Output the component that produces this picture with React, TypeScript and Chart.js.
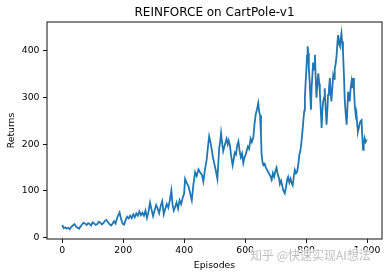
import React, { useEffect, useRef } from "react";
import { Chart, registerables } from "chart.js";

Chart.register(...registerables);

const titleText = "REINFORCE on CartPole-v1";
const xLabel = "Episodes";
const yLabel = "Returns";
const watermark = "知乎 @快速实现AI想法";

const xTicks = [0, 200, 400, 600, 800, 1000];
const yTicks = [0, 100, 200, 300, 400];

const episodes = [
  0, 5, 10, 15, 20, 25, 30, 35, 40, 45, 50, 55, 60, 65, 70, 75, 80, 85, 90, 95,
  100, 105, 110, 115, 120, 125, 130, 135, 140, 145, 150, 155, 160, 165, 170, 175, 180, 185, 188, 193,
  198, 203, 208, 213, 218, 223, 228, 233, 238, 243, 248, 253, 258, 263, 268, 273, 278, 283, 288, 293,
  298, 303, 308, 313, 318, 323, 328, 333, 338, 343, 348, 353, 358, 362, 366, 370, 375, 380, 385, 390,
  395, 400, 403, 408, 414, 418, 422, 425, 430, 436, 441, 447, 452, 458, 463, 468, 474, 478, 482, 486,
  490, 495, 501, 505, 509, 512, 515, 518, 521, 525, 528, 532, 536, 539, 543, 546, 550, 554, 559, 563,
  566, 570, 574, 578, 582, 586, 590, 594, 598, 602, 605, 609, 613, 618, 622, 627, 631, 635, 639, 643,
  646, 649, 652, 654, 657, 660, 664, 668, 672, 676, 680, 684, 687, 691, 695, 699, 703, 707, 711, 714,
  718, 722, 726, 730, 734, 738, 741, 745, 749, 752, 756, 760, 763, 767, 771, 775, 778, 781, 785, 789,
  792, 794, 796, 798, 801, 803, 805, 807, 809, 812, 814, 816, 818, 821, 823, 826, 829, 831, 834, 837,
  840, 843, 845, 848, 851, 853, 856, 859, 861, 864, 867, 870, 872, 875, 878, 880, 883, 886, 889, 892,
  894, 897, 900, 903, 905, 908, 911, 913, 916, 918, 921, 924, 927, 930, 933, 936, 938, 941, 943, 946,
  949, 951, 954, 957, 960, 963, 965, 968, 970, 973, 976, 979, 982, 984, 987, 989, 992, 995, 999,
];

const returns = [
  27, 20, 22, 19, 21, 18, 23, 26, 29, 24, 21, 19, 24, 28, 32, 30, 27, 31, 29, 26,
  33, 30, 27, 29, 34, 32, 28, 31, 36, 38, 33, 29, 26, 30, 35, 30, 42, 50, 54, 40,
  30, 28, 38, 45, 41, 47, 42, 50, 44, 52, 47, 56, 48, 53, 47, 58, 42, 55, 75, 60,
  46, 58, 70, 62, 52, 68, 78, 50, 62, 72, 64, 80, 101, 70, 58, 65, 75, 62, 80, 72,
  85, 95, 126, 118, 110, 100, 88, 80, 112, 140, 132, 146, 140, 135, 120, 145, 168, 195, 217, 205,
  190, 170, 152, 140, 126, 160, 192, 205, 224, 200, 185, 195, 205, 212, 200, 208, 198, 175, 155, 170,
  182, 178, 198, 206, 185, 172, 180, 160, 172, 178, 186, 195, 190, 212, 205, 215, 245, 265, 275, 288,
  270, 262, 220, 178, 162, 155, 158, 150, 145, 140, 135, 130, 124, 138, 130, 142, 150, 135, 128, 115,
  122, 110, 100, 95, 108, 125, 130, 118, 126, 118, 112, 132, 145, 138, 142, 160, 178, 185, 206, 235,
  258, 272, 300, 327, 360, 390, 410, 395, 362, 330, 300, 274, 320, 352, 375, 360, 392, 350, 300, 330,
  352, 330, 313, 275, 235, 268, 292, 300, 320, 280, 242, 275, 306, 320, 342, 318, 292, 320, 348, 340,
  362, 372, 390, 420, 434, 415, 410, 425, 438, 420, 399, 350, 292, 265, 242, 285, 313, 300, 292, 320,
  334, 320, 342, 320, 280, 262, 268, 240, 227, 235, 245, 250, 252, 220, 188, 200, 213, 205, 210,
];

const FONT = "'DejaVu Sans', sans-serif";

const framePlugin = {
  id: "frame",
  afterDatasetsDraw(chart: any) {
    const { ctx, chartArea } = chart;
    ctx.save();
    ctx.strokeStyle = "#111";
    ctx.lineWidth = 1;
    ctx.strokeRect(chartArea.left, chartArea.top, chartArea.right - chartArea.left, chartArea.bottom - chartArea.top);
    ctx.restore();
  },
};

const watermarkPlugin = {
  id: "watermark",
  afterDraw(chart: any) {
    const { ctx } = chart;
    ctx.save();
    ctx.font = "12px 'Noto Sans CJK SC', sans-serif";
    ctx.textAlign = "left";
    ctx.textBaseline = "middle";
    ctx.lineWidth = 2;
    ctx.strokeStyle = "rgba(255,255,255,0.8)";
    ctx.strokeText(watermark, 250, 255);
    ctx.fillStyle = "rgba(170,170,170,0.75)";
    ctx.fillText(watermark, 250, 255);
    ctx.restore();
  },
};

export default function App() {
  const ref = useRef<HTMLCanvasElement | null>(null);

  useEffect(() => {
    document.body.style.margin = "0";
    const canvas = ref.current;
    if (!canvas) return;
    const data = episodes.map((e, i) => ({ x: e, y: returns[i] }));
    const chart = new Chart(canvas, {
      type: "line",
      data: {
        datasets: [
          {
            data,
            borderColor: "#1f77b4",
            borderWidth: 1.8,
            pointRadius: 0,
            fill: false,
            tension: 0,
          },
        ],
      },
      options: {
        animation: false,
        responsive: false,
        devicePixelRatio: 1,
        layout: { padding: { left: 0, right: 10, top: 0, bottom: 0 } },
        plugins: {
          legend: { display: false },
          tooltip: { enabled: false },
          title: {
            display: true,
            text: titleText,
            fullSize: false,
            color: "#000",
            font: { family: FONT, size: 12, weight: "normal" },
            padding: { top: 5.5, bottom: 2.1 },
          },
        },
        scales: {
          x: {
            type: "linear",
            min: -50,
            max: 1049,
            afterBuildTicks: (s: any) => {
              s.ticks = xTicks.map((v) => ({ value: v }));
            },
            afterFit: (s: any) => {
              s.height = 39;
            },
            grid: {
              drawOnChartArea: false,
              drawTicks: true,
              tickLength: 4,
              tickColor: "#000",
              tickWidth: 0.9,
            },
            border: { display: false },
            ticks: {
              color: "#000",
              font: { family: FONT, size: 9.3 },
              padding: 2,
              maxRotation: 0,
              autoSkip: false,
            },
            title: {
              display: true,
              text: xLabel,
              color: "#000",
              font: { family: FONT, size: 9.3 },
              padding: 6.4,
            },
          },
          y: {
            type: "linear",
            min: -3,
            max: 462,
            afterBuildTicks: (s: any) => {
              s.ticks = yTicks.map((v) => ({ value: v }));
            },
            afterFit: (s: any) => {
              s.width = 47;
            },
            grid: {
              drawOnChartArea: false,
              drawTicks: true,
              tickLength: 4,
              tickColor: "#000",
              tickWidth: 0.9,
            },
            border: { display: false },
            ticks: {
              color: "#000",
              font: { family: FONT, size: 9.3 },
              padding: 3.5,
              autoSkip: false,
            },
            title: {
              display: true,
              text: yLabel,
              color: "#000",
              font: { family: FONT, size: 9.3 },
              padding: 6.4,
            },
          },
        },
      },
      plugins: [framePlugin, watermarkPlugin],
    });
    return () => chart.destroy();
  }, []);

  return (
    <div style={{ width: 392, height: 278 }}>
      <canvas ref={ref} width={392} height={278} style={{ display: "block", width: 392, height: 278 }} />
    </div>
  );
}
